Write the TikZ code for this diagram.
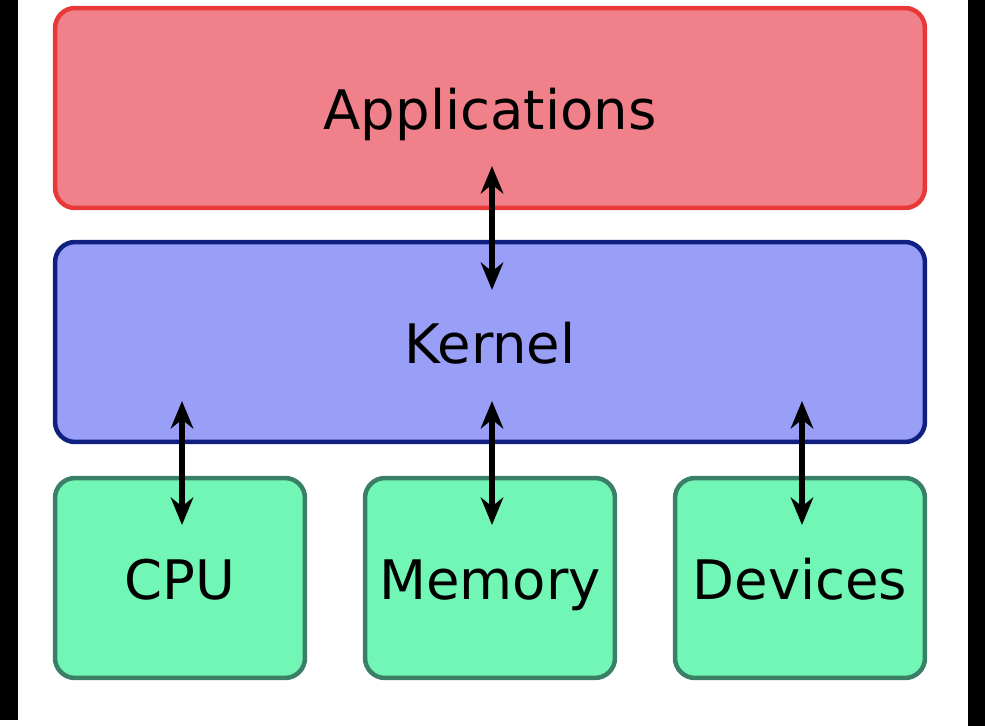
\documentclass[tikz,border=0pt]{standalone}
\usepackage{fontspec}
\setmainfont{DejaVu Sans}
\usetikzlibrary{arrows.meta}
\begin{document}
\begin{tikzpicture}[x=0.02cm,y=-0.02cm,
    box/.style={draw,rounded corners=0.4cm,line width=0.09cm,inner sep=0pt,
      text height=1.08cm,text depth=0.2cm,
      font=\fontsize{31}{38}\selectfont},
    link/.style={line width=0.12cm,{Stealth[length=0.55cm,width=0.45cm]}-{Stealth[length=0.55cm,width=0.45cm]}},
  ]
  \useasboundingbox (0,0) rectangle (985,726);
  \fill[white] (0,0) rectangle (985,726);
  \fill[black] (0,0) rectangle (18,720);
  \fill[black] (968,0) rectangle (985,726);

  \node[box,fill={rgb,255:red,240;green,128;blue,137},draw={rgb,255:red,232;green,56;blue,56},
    minimum width=17.4cm,minimum height=4cm] (app) at (490,108) {Applications};
  \node[box,fill={rgb,255:red,153;green,158;blue,246},draw={rgb,255:red,16;green,32;blue,128},
    minimum width=17.4cm,minimum height=4cm] (ker) at (490,342) {Kernel};
  \tikzset{hw/.style={box,fill={rgb,255:red,114;green,246;blue,181},
    draw={rgb,255:red,58;green,128;blue,102},minimum width=5cm,minimum height=4cm}}
  \node[hw] (cpu) at (180,578) {CPU};
  \node[hw] (mem) at (490,578) {Memory};
  \node[hw] (dev) at (800,578) {Devices};

  \coordinate (a1) at (492,166);
  \coordinate (a2) at (492,290);
  \coordinate (k1) at (182,401);
  \coordinate (k2) at (492,401);
  \coordinate (k3) at (802,401);
  \coordinate (c1) at (182,525);
  \coordinate (c2) at (492,525);
  \coordinate (c3) at (802,525);

  \draw[link] (a1) -- (a2);
  \draw[link] (k1) -- (c1);
  \draw[link] (k2) -- (c2);
  \draw[link] (k3) -- (c3);
\end{tikzpicture}
\end{document}
